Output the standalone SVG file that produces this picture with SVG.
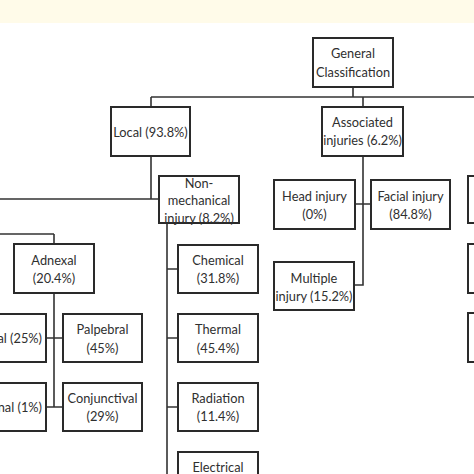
<svg xmlns="http://www.w3.org/2000/svg" width="474" height="474" viewBox="0 0 474 474">
<style>
.box{fill:#fff;stroke:#2a2a2a;stroke-width:2}
.ln{fill:none;stroke:#333;stroke-width:1.6}
text{font-family:Lato,"Open Sans",sans-serif;font-size:12.8px;fill:#2f2f2f;text-anchor:middle;dominant-baseline:central}
</style>
<rect x="0" y="0" width="474" height="474" fill="#fff"/>
<rect x="0" y="0" width="474" height="23" fill="#fffbe9"/>
<g id="connectors">
<path class="ln" d="M353 87V97M151 97H474M151 97V107M363 97V107"/>
<path class="ln" d="M151 156V199M0 199H159"/>
<path class="ln" d="M363 156V285H354M355 204H371"/>
<path class="ln" d="M54 234V244M0 234H54M54 293V407M46 338H63M46 407H63"/>
<path class="ln" d="M167 223V474M167 269H178M167 338H178M167 407H178M167 476H178"/>
</g>
<g id="general"><rect class="box" x="313" y="38" width="80" height="49"/><text x="353" y="53">General</text><text x="353" y="72">Classification</text></g>
<g id="local"><rect class="box" x="111" y="107" width="79" height="49"/><text x="150.5" y="132">Local (93.8%)</text></g>
<g id="associated"><rect class="box" x="322" y="107" width="81" height="49"/><text x="362.5" y="122">Associated</text><text x="362.5" y="140">injuries (6.2%)</text></g>
<g id="nonmech"><rect class="box" x="159" y="176" width="80" height="47"/><text x="199" y="183">Non-</text><text x="199" y="200">mechanical</text><text x="199" y="218">injury (8.2%)</text></g>
<g id="head"><rect class="box" x="274" y="180" width="81" height="49"/><text x="314.5" y="196">Head injury</text><text x="314.5" y="214">(0%)</text></g>
<g id="facial"><rect class="box" x="371" y="180" width="79" height="49"/><text x="410.5" y="196">Facial injury</text><text x="410.5" y="214">(84.8%)</text></g>
<g id="multiple"><rect class="box" x="274" y="262" width="80" height="48"/><text x="314" y="278">Multiple</text><text x="314" y="296">injury (15.2%)</text></g>
<g id="right1"><rect class="box" x="468" y="176" width="20" height="47"/></g>
<g id="right2"><rect class="box" x="468" y="244" width="20" height="49"/></g>
<g id="right3"><rect class="box" x="468" y="313" width="20" height="49"/></g>
<g id="adnexal"><rect class="box" x="14" y="244" width="80" height="49"/><text x="54" y="260">Adnexal</text><text x="54" y="278">(20.4%)</text></g>
<g id="left1"><rect class="box" x="-40" y="314" width="86" height="48"/><text x="42" y="338" style="text-anchor:end">al (25%)</text></g>
<g id="left2"><rect class="box" x="-40" y="383" width="86" height="48"/><text x="42" y="407" style="text-anchor:end">nal (1%)</text></g>
<g id="palpebral"><rect class="box" x="63" y="314" width="79" height="48"/><text x="102.5" y="329">Palpebral</text><text x="102.5" y="348">(45%)</text></g>
<g id="conjunctival"><rect class="box" x="63" y="383" width="79" height="48"/><text x="102.5" y="398">Conjunctival</text><text x="102.5" y="416">(29%)</text></g>
<g id="chemical"><rect class="box" x="178" y="245" width="80" height="48"/><text x="218" y="260">Chemical</text><text x="218" y="278">(31.8%)</text></g>
<g id="thermal"><rect class="box" x="178" y="314" width="80" height="48"/><text x="218" y="329">Thermal</text><text x="218" y="348">(45.4%)</text></g>
<g id="radiation"><rect class="box" x="178" y="383" width="80" height="48"/><text x="218" y="398">Radiation</text><text x="218" y="416">(11.4%)</text></g>
<g id="electrical"><rect class="box" x="178" y="452" width="80" height="48"/><text x="218" y="467">Electrical</text></g>
</svg>
